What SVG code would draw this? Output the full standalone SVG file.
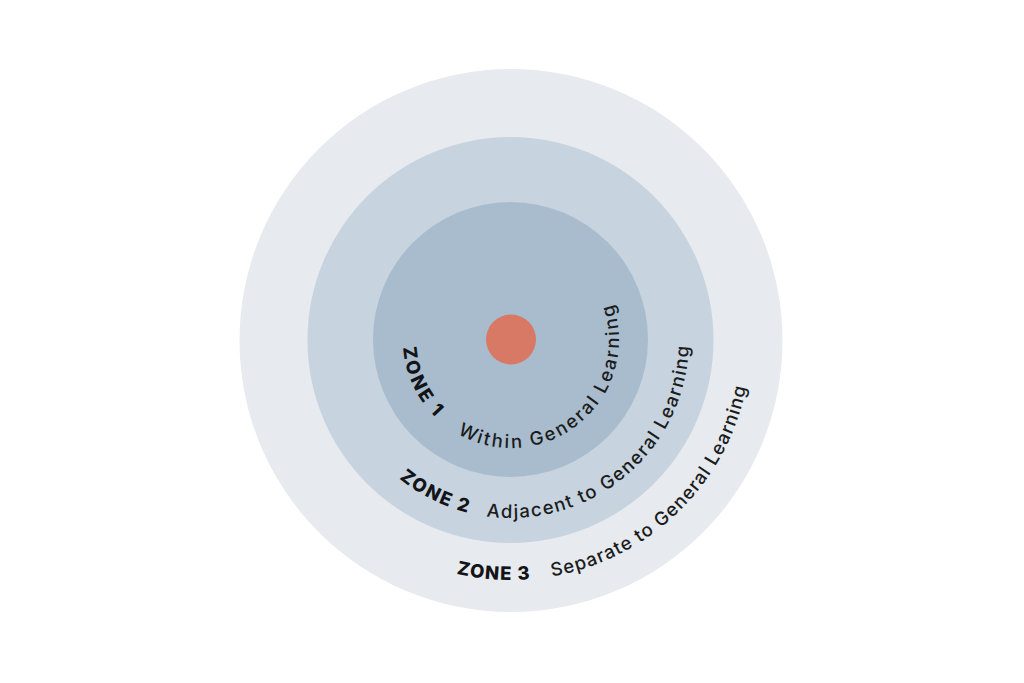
<svg xmlns="http://www.w3.org/2000/svg" xmlns:xlink="http://www.w3.org/1999/xlink" width="1024" height="683" viewBox="0 0 1024 683">
  <style>
    .zone { font-family: Inter, Lato, "Liberation Sans", sans-serif; font-weight: 800; font-size: 18.5px; fill: #121417; }
    .desc { font-family: Inter, Lato, "Liberation Sans", sans-serif; font-weight: 500; font-size: 18.5px; fill: #1a1c20; }
  </style>
  <defs>
    <path id="arc1" d="M409.513,303.062 A108,108 0 0 0 474.062,441.487 A108,108 0 0 0 612.487,376.938 A108,108 0 0 0 565,246.469" fill="none"/>
    <path id="arc2" d="M343.735,279.120 A178,178 0 0 0 450.120,507.265 A178,178 0 0 0 678.265,400.880 A178,178 0 0 0 600,185.847" fill="none"/>
    <path id="arc3" d="M285.474,257.915 A240,240 0 0 0 428.915,565.526 A240,240 0 0 0 736.526,422.085 A240,240 0 0 0 631,132.154" fill="none"/>
  </defs>
  <rect width="1024" height="683" fill="#ffffff"/>
  <g id="zone3">
    <circle cx="511" cy="340.5" r="271.5" fill="#e7eaee"/>
  </g>
  <g id="zone2">
    <circle cx="510.5" cy="340" r="203" fill="#c7d3de"/>
  </g>
  <g id="zone1">
    <circle cx="510.5" cy="339.5" r="137.5" fill="#a9bccd"/>
  </g>
  <g id="core">
    <circle cx="511" cy="339.5" r="25" fill="#d87966"/>
  </g>
  <g id="labels">
    <text class="zone"><textPath xlink:href="#arc1" href="#arc1" startOffset="45.2" textLength="78" lengthAdjust="spacing">ZONE 1</textPath></text>
    <text class="desc"><textPath xlink:href="#arc1" href="#arc1" startOffset="150.8" textLength="262" lengthAdjust="spacing">Within General Learning</textPath></text>
    <text class="zone"><textPath xlink:href="#arc2" href="#arc2" startOffset="220.6" textLength="77" lengthAdjust="spacing">ZONE 2</textPath></text>
    <text class="desc"><textPath xlink:href="#arc2" href="#arc2" startOffset="316.9" textLength="298" lengthAdjust="spacing">Adjacent to General Learning</textPath></text>
    <text class="zone"><textPath xlink:href="#arc3" href="#arc3" startOffset="405.5" textLength="74" lengthAdjust="spacing">ZONE 3</textPath></text>
    <text class="desc"><textPath xlink:href="#arc3" href="#arc3" startOffset="501.8" textLength="288" lengthAdjust="spacing">Separate to General Learning</textPath></text>
  </g>
  <g id="connectors"/>
</svg>
